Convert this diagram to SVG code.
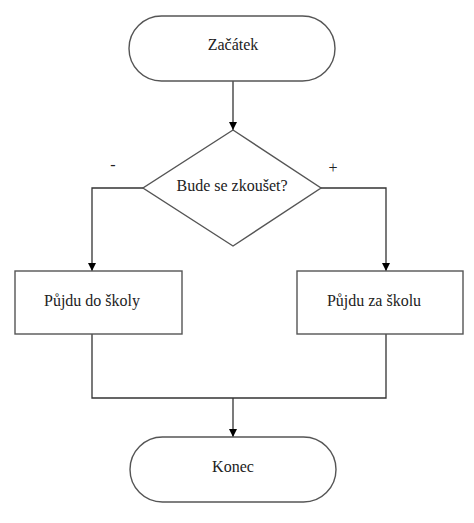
<svg xmlns="http://www.w3.org/2000/svg" width="474" height="523" viewBox="0 0 474 523">
<defs>
<marker id="arr" viewBox="0 0 10 10" refX="10" refY="5" markerWidth="8" markerHeight="8" markerUnits="userSpaceOnUse" orient="auto">
<path d="M0,0 L10,5 L0,10 z" fill="#000"/>
</marker>
</defs>
<style>
.shape{fill:#fff;stroke:#555;stroke-width:1.4}
.conn{fill:none;stroke:#333;stroke-width:1.3}
.t{font-family:'Liberation Serif','DejaVu Serif',serif;font-size:16px;fill:#222;text-anchor:middle}
</style>
<rect width="474" height="523" fill="#fff"/>
<g id="connectors">
<path class="conn" d="M233,81 V130" marker-end="url(#arr)"/>
<path class="conn" d="M143,188 H92 V271" marker-end="url(#arr)"/>
<path class="conn" d="M321,188 H386 V271" marker-end="url(#arr)"/>
<path class="conn" d="M92,334 V398 H386 V334"/>
<path class="conn" d="M233,398 V437" marker-end="url(#arr)"/>
<text class="t" x="113" y="170" font-family="Liberation Serif, serif">-</text>
<text class="t" x="333" y="173" font-family="Liberation Serif, serif">+</text>
</g>
<g id="start">
<rect class="shape" x="129" y="16" width="206" height="65" rx="32.5"/>
<text class="t" x="233" y="50" font-family="Liberation Serif, serif">Začátek</text>
</g>
<g id="decision">
<polygon class="shape" points="233,130 321,188 233,246 143,188"/>
<text class="t" x="232" y="191" font-family="Liberation Serif, serif">Bude se zkoušet?</text>
</g>
<g id="school">
<rect class="shape" x="15" y="271" width="167" height="63"/>
<text class="t" x="92" y="306" font-family="Liberation Serif, serif">Půjdu do školy</text>
</g>
<g id="skip">
<rect class="shape" x="297" y="271" width="166" height="63"/>
<text class="t" x="374" y="306" font-family="Liberation Serif, serif">Půjdu za školu</text>
</g>
<g id="end">
<rect class="shape" x="130" y="437" width="206" height="65" rx="32.5"/>
<text class="t" x="233" y="472" font-family="Liberation Serif, serif">Konec</text>
</g>
</svg>
